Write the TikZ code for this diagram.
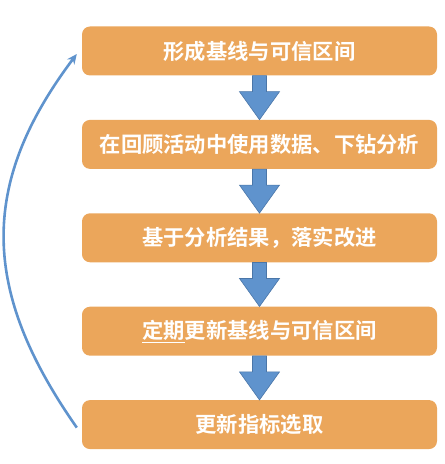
\documentclass[tikz,border=0pt]{standalone}
\usepackage{fontspec}
\newfontfamily\cjk{Noto Sans CJK SC}[BoldFont={Noto Sans CJK SC Bold}]
\usetikzlibrary{positioning,arrows.meta,calc}
\definecolor{boxorange}{HTML}{EBA65B}
\definecolor{arrowblue}{HTML}{5F93CD}
\definecolor{arrowedge}{HTML}{4A76A8}
\tikzset{
  stepbox/.style={rectangle, rounded corners=8pt, fill=boxorange,
    minimum width=355pt, minimum height=49pt, inner sep=0pt,
    text=white, font=\cjk\bfseries\fontsize{21.3}{24}\selectfont},
  blockarrow/.style={fill=arrowblue, draw=arrowedge, line width=0.6pt, line join=miter},
  loopline/.style={draw=arrowblue, line width=2.6pt, -{Stealth[length=10pt,width=9pt]}}
}
\newcommand{\flowarrow}[2]{%
  \path let \p1=(#1.south), \p2=(#2.north) in
    [blockarrow] (\x1-7pt,\y1) -- (\x1+7pt,\y1) -- (\x1+7pt,\y2+28pt)
    -- (\x1+20pt,\y2+28pt) -- (\x2,\y2) -- (\x1-20pt,\y2+28pt)
    -- (\x1-7pt,\y2+28pt) -- cycle;}
\begin{document}
\begin{tikzpicture}[x=1pt,y=1pt]
  \useasboundingbox (0,0) rectangle (445,464);
  % the five steps
  \node[stepbox] (baseline) at (259.5,413) {形成基线与可信区间};
  \node[stepbox, below=44pt of baseline] (review) {在回顾活动中使用数据、下钻分析};
  \node[stepbox, below=44pt of review] (improve) {基于分析结果，落实改进};
  \node[stepbox, below=44pt of improve] (update) {\underline{定期}更新基线与可信区间};
  \node[stepbox, below=44pt of update] (select) {更新指标选取};
  % arrows between steps
  \flowarrow{baseline}{review}
  \flowarrow{review}{improve}
  \flowarrow{improve}{update}
  \flowarrow{update}{select}
  % loop back
  \coordinate (loopstart) at ($(select.west)+(-5,-3)$);
  \coordinate (loopend) at ($(baseline.west)+(-5,-3)$);
  \draw[loopline] (loopstart) .. controls +(125:165) and +(233:165) .. (loopend);
\end{tikzpicture}
\end{document}
